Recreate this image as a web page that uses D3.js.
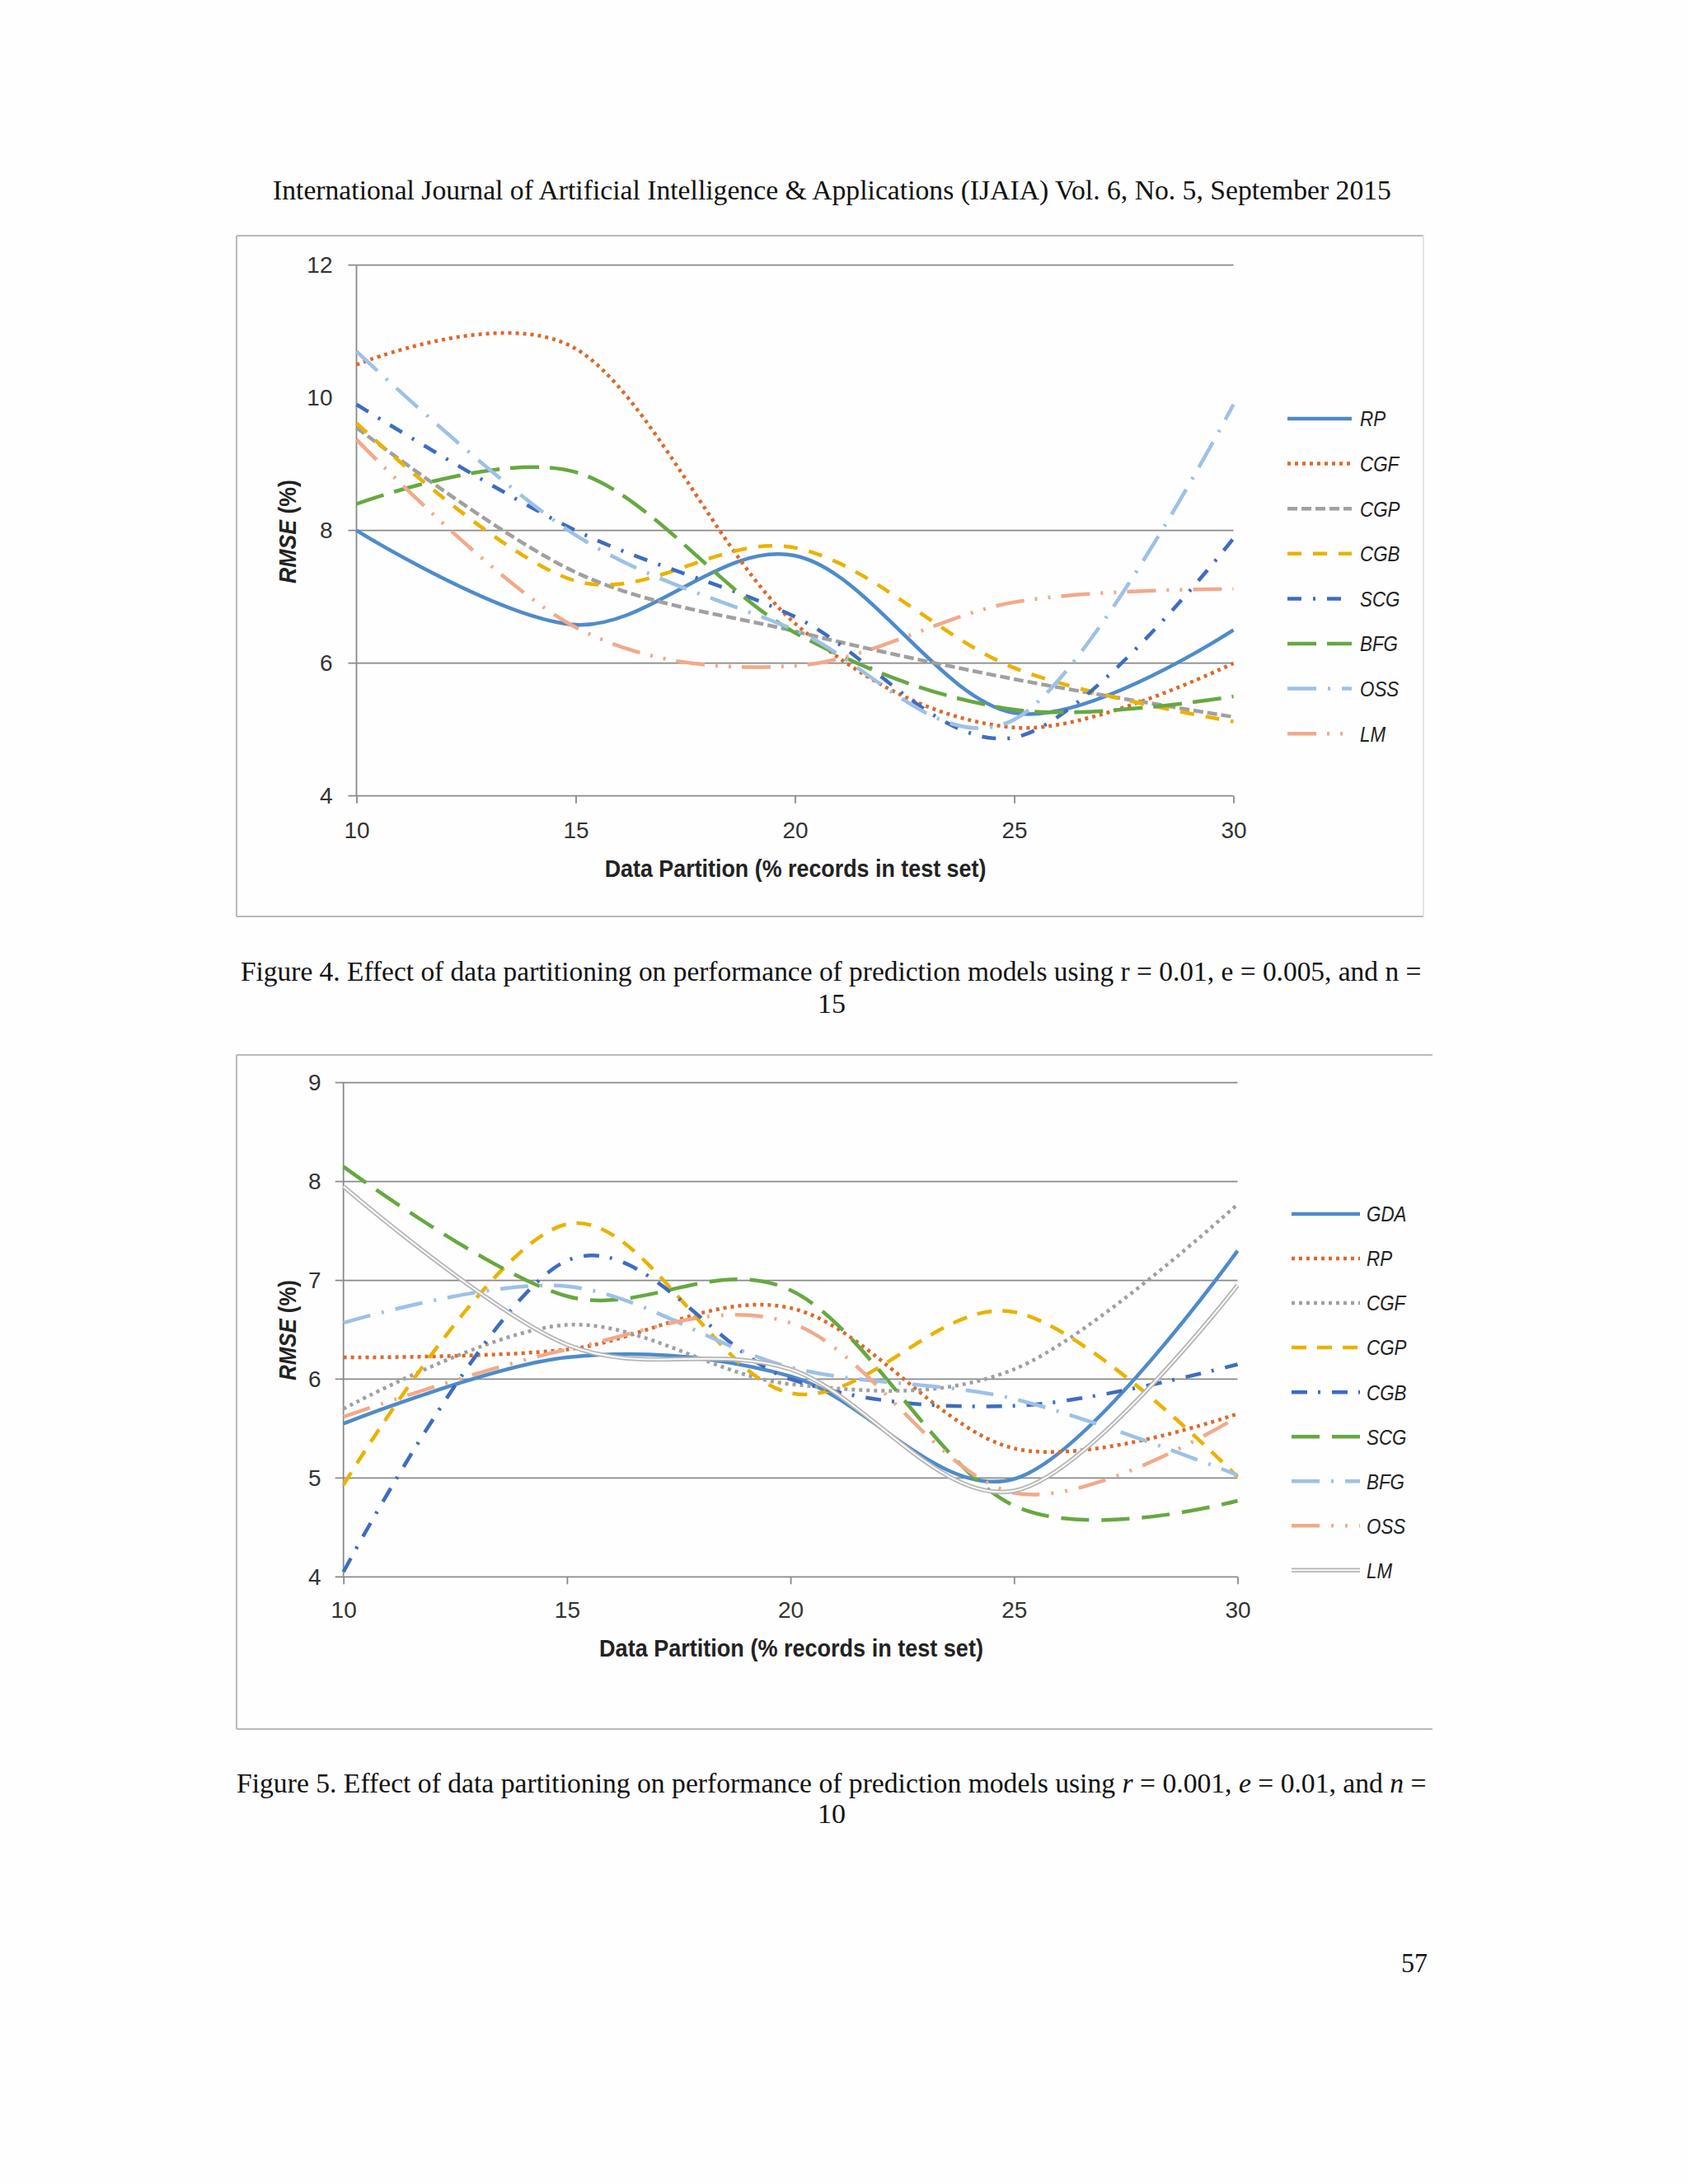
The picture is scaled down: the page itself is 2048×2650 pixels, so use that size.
<!DOCTYPE html>
<html><head><meta charset="utf-8">
<script src="https://cdn.jsdelivr.net/npm/d3@7"></script>
<style>
html,body{margin:0;padding:0;background:#fefefe;}
svg{display:block;}
</style></head><body>
<svg id="page" width="2048" height="2650"></svg>
<script>
// ---------- DATA ----------
const partitions = [10, 15, 20, 25, 30];

// Figure 4
const fig4Names = ["RP", "CGF", "CGP", "CGB", "SCG", "BFG", "OSS", "LM"];
const fig4RP  = [8.00, 6.58, 7.62, 5.25, 6.50];
const fig4CGF = [10.50, 10.74, 6.60, 5.03, 6.00];
const fig4CGP = [9.55, 7.37, 6.48, 5.76, 5.19];
const fig4CGB = [9.62, 7.24, 7.74, 5.93, 5.12];
const fig4SCG = [9.90, 8.00, 6.70, 4.88, 7.88];
const fig4BFG = [8.40, 8.88, 6.46, 5.30, 5.50];
const fig4OSS = [10.70, 7.93, 6.50, 5.15, 9.90];
const fig4LM  = [9.37, 6.54, 5.96, 6.92, 7.12];
const fig4YTicks = [4, 6, 8, 10, 12];
const fig4Grid = [12, 8, 6];

// Figure 5
const fig5Names = ["GDA", "RP", "CGF", "CGP", "CGB", "SCG", "BFG", "OSS", "LM"];
const fig5GDA = [5.55, 6.22, 6.03, 4.99, 7.30];
const fig5RP  = [6.22, 6.30, 6.72, 5.30, 5.65];
const fig5CGF = [5.70, 6.55, 5.95, 6.10, 7.77];
const fig5CGP = [4.93, 7.57, 5.86, 6.68, 5.01];
const fig5CGB = [4.05, 7.20, 6.00, 5.73, 6.15];
const fig5SCG = [8.15, 6.84, 6.90, 4.72, 4.77];
const fig5BFG = [6.57, 6.94, 6.12, 5.80, 5.03];
const fig5OSS = [5.62, 6.30, 6.57, 4.85, 5.62];
const fig5LM  = [7.95, 6.35, 6.10, 4.87, 6.95];
const fig5YTicks = [4, 5, 6, 7, 8, 9];
const fig5Grid = [9, 8, 7, 6, 5];

const xTitle = "Data Partition (% records in test set)";

// ---------- STYLES ----------
const C = {
  blue: "#4f8bc9", orange: "#db6a2c", gray: "#a0a0a0", gold: "#eab200",
  dblue: "#3e6cbf", green: "#66a841", lblue: "#9dc1e6", salmon: "#f2a98a"
};
const fig4Styles = {
  RP:  {c: C.blue,   d: null},
  CGF: {c: C.orange, d: "4,5"},
  CGP: {c: C.gray,   d: "12,5"},
  CGB: {c: C.gold,   d: "17,14"},
  SCG: {c: C.dblue,  d: "17,14,3,14"},
  BFG: {c: C.green,  d: "35,13"},
  OSS: {c: C.lblue,  d: "35,14,3,14"},
  LM:  {c: C.salmon, d: "35,13,3,13,3,13"}
};
const fig5Styles = {
  GDA: {c: C.blue,   d: null},
  RP:  {c: C.orange, d: "4,5"},
  CGF: {c: C.gray,   d: "4,5"},
  CGP: {c: C.gold,   d: "18,13"},
  CGB: {c: C.dblue,  d: "19,13,3,14"},
  SCG: {c: C.green,  d: "34,15"},
  BFG: {c: C.lblue,  d: "34,14,3,14"},
  OSS: {c: C.salmon, d: "34,14,3,14,3,14"},
  LM:  {c: "#b5b5b5", d: null, dbl: true}
};

const svg = d3.select("#page");
svg.append("rect").attr("width", 2048).attr("height", 2650).attr("fill", "#fefefe");

const SERIF = "'Liberation Serif','Times New Roman',serif";
const SANS = "'Liberation Sans',Arial,sans-serif";

// squeeze a text horizontally to a target width (keeps glyph height)
function fitWidth(t, x, y, target) {
  const w = t.node().getComputedTextLength();
  const k = target / w;
  t.attr("x", 0).attr("y", 0).attr("transform", `translate(${x},${y}) scale(${k},1)`);
}

// ---------- PAGE TEXT ----------
function serifLine(x, y, anchor, target, build) {
  const t = svg.append("text").attr("text-anchor", anchor)
    .attr("font-family", SERIF).attr("font-size", 34).attr("fill", "#111");
  build(t);
  fitWidth(t, x, y, target);
  return t;
}
serifLine(331, 242, "start", 1357, t => t.text("International Journal of Artificial Intelligence & Applications (IJAIA) Vol. 6, No. 5, September 2015"));
serifLine(292, 1190, "start", 1433, t => t.text("Figure 4. Effect of data partitioning on performance of prediction models using r = 0.01, e = 0.005, and n ="));
serifLine(1009, 1229, "middle", 34, t => t.text("15"));
serifLine(287, 2175, "start", 1444, t => {
  t.append("tspan").text("Figure 5. Effect of data partitioning on performance of prediction models using ");
  t.append("tspan").attr("font-style", "italic").text("r");
  t.append("tspan").text(" = 0.001, ");
  t.append("tspan").attr("font-style", "italic").text("e");
  t.append("tspan").text(" = 0.01, and  ");
  t.append("tspan").attr("font-style", "italic").text("n");
  t.append("tspan").text(" =");
});
serifLine(1009, 2212, "middle", 34, t => t.text("10"));
serifLine(1732, 2393, "end", 32, t => t.text("57"));

// ---------- CHART ----------
function drawChart(cfg) {
  const g = svg.append("g");
  const [fx, fy, fw, fh] = cfg.frame;
  g.append("rect").attr("x", fx).attr("y", fy).attr("width", fw).attr("height", fh)
    .attr("fill", "#fefefe").attr("stroke", "none");
  const fl = g.append("g").attr("stroke", "#b9b9b9").attr("stroke-width", 2);
  fl.append("line").attr("x1", fx).attr("x2", fx + fw).attr("y1", fy).attr("y2", fy);
  fl.append("line").attr("x1", fx).attr("x2", fx + fw).attr("y1", fy + fh).attr("y2", fy + fh);
  fl.append("line").attr("x1", fx).attr("x2", fx).attr("y1", fy).attr("y2", fy + fh);
  if (cfg.rightEdge) fl.append("line").attr("x1", fx + fw).attr("x2", fx + fw).attr("y1", fy).attr("y2", fy + fh).attr("stroke", "#e4e4e4");

  const x = d3.scaleLinear().domain([10, 30]).range([cfg.px0, cfg.px1]);
  const y = d3.scaleLinear().domain(cfg.yDomain).range([cfg.py0, cfg.py1]);

  // gridlines (extend left as tick marks) + x axis line
  g.selectAll(null).data(cfg.grid.concat([cfg.yDomain[0]])).join("line")
    .attr("x1", x(10) - 10).attr("x2", x(30))
    .attr("y1", d => y(d)).attr("y2", d => y(d))
    .attr("stroke", "#8a8a8a").attr("stroke-width", 1.8);
  // y axis line
  g.append("line").attr("x1", x(10)).attr("x2", x(10))
    .attr("y1", y(cfg.yDomain[1])).attr("y2", y(cfg.yDomain[0]))
    .attr("stroke", "#8a8a8a").attr("stroke-width", 1.8);

  // y axis labels
  const ya = g.append("g").attr("transform", `translate(${x(10)},0)`)
    .call(d3.axisLeft(y).tickValues(cfg.yTicks).tickSize(0).tickPadding(cfg.yPad).tickFormat(d3.format("d")));
  ya.select(".domain").remove();
  ya.selectAll("text").attr("font-family", SANS).attr("font-size", 28).attr("fill", "#333");

  // x axis
  const xa = g.append("g").attr("transform", `translate(0,${y(cfg.yDomain[0])})`)
    .call(d3.axisBottom(x).tickValues(partitions).tickSize(9).tickPadding(cfg.xPad).tickFormat(d3.format("d")));
  xa.select(".domain").remove();
  xa.selectAll(".tick line").attr("stroke", "#8a8a8a").attr("stroke-width", 1.8);
  xa.selectAll("text").attr("font-family", SANS).attr("font-size", 28).attr("fill", "#333");

  // axis titles
  const xt = g.append("text").attr("text-anchor", "middle")
    .attr("font-family", SANS).attr("font-weight", "bold").attr("font-size", 29).attr("fill", "#222")
    .text(xTitle);
  fitWidth(xt, cfg.xtX, cfg.xtY, cfg.xtLen);
  const ytWrap = g.append("g").attr("transform", `translate(${cfg.ytX},${cfg.ytY}) rotate(-90)`);
  const yt = ytWrap.append("text").attr("text-anchor", "middle")
    .attr("font-family", SANS).attr("font-weight", "bold").attr("font-size", 29).attr("fill", "#222");
  yt.append("tspan").attr("font-style", "italic").text("RMSE");
  yt.append("tspan").text(" (%)");
  fitWidth(yt, 0, 0, cfg.ytLen);

  // series
  const line = d3.line().x((d, i) => x(partitions[i])).y(d => y(d)).curve(d3.curveCardinal.tension(0));
  const plot = g.append("g").attr("fill", "none");
  cfg.series.forEach(s => {
    const st = cfg.styles[s.name];
    if (st.dbl) {
      plot.append("path").attr("d", line(s.values)).attr("stroke", st.c).attr("stroke-width", 5.5);
      plot.append("path").attr("d", line(s.values)).attr("stroke", "#fafafa").attr("stroke-width", 2);
    } else {
      plot.append("path").attr("d", line(s.values)).attr("stroke", st.c).attr("stroke-width", 4.5)
        .attr("stroke-dasharray", st.d);
    }
  });

  // legend
  const lg = g.append("g");
  cfg.series.forEach((s, i) => {
    const st = cfg.styles[s.name];
    const ly = cfg.legY0 + i * cfg.legDy;
    if (st.dbl) {
      lg.append("line").attr("x1", cfg.legX0).attr("x2", cfg.legX1).attr("y1", ly).attr("y2", ly)
        .attr("stroke", st.c).attr("stroke-width", 5.5);
      lg.append("line").attr("x1", cfg.legX0).attr("x2", cfg.legX1).attr("y1", ly).attr("y2", ly)
        .attr("stroke", "#fafafa").attr("stroke-width", 2);
    } else {
      lg.append("line").attr("x1", cfg.legX0).attr("x2", cfg.legX1).attr("y1", ly).attr("y2", ly)
        .attr("stroke", st.c).attr("stroke-width", 4.5).attr("stroke-dasharray", st.d);
    }
    const lt = lg.append("text").attr("dy", "0.36em")
      .attr("font-family", SANS).attr("font-style", "italic").attr("font-size", 26).attr("fill", "#222")
      .text(s.name);
    const w = lt.node().getComputedTextLength();
    fitWidth(lt, cfg.legTX, ly, w * 0.86);
  });
}

drawChart({
  frame: [287, 286, 1440, 826], rightEdge: true,
  px0: 432.5, px1: 1496.5, yDomain: [4, 12], py0: 965.7, py1: 321.7,
  grid: fig4Grid, yTicks: fig4YTicks, yPad: 29, xPad: 22,
  xtX: 965, xtY: 1064, xtLen: 463,
  ytX: 359, ytY: 645, ytLen: 126,
  legX0: 1562, legX1: 1640, legTX: 1650, legY0: 508, legDy: 54.6,
  styles: fig4Styles,
  series: [
    {name: "RP", values: fig4RP}, {name: "CGF", values: fig4CGF},
    {name: "CGP", values: fig4CGP}, {name: "CGB", values: fig4CGB},
    {name: "SCG", values: fig4SCG}, {name: "BFG", values: fig4BFG},
    {name: "OSS", values: fig4OSS}, {name: "LM", values: fig4LM}
  ]
});

drawChart({
  frame: [287, 1280, 1451, 818], rightEdge: false,
  px0: 416.7, px1: 1501.5, yDomain: [4, 9], py0: 1913.3, py1: 1313.7,
  grid: fig5Grid, yTicks: fig5YTicks, yPad: 27, xPad: 21,
  xtX: 960, xtY: 2010, xtLen: 466,
  ytX: 359, ytY: 1614, ytLen: 122,
  legX0: 1567, legX1: 1650, legTX: 1658, legY0: 1473, legDy: 54.04,
  styles: fig5Styles,
  series: [
    {name: "GDA", values: fig5GDA}, {name: "RP", values: fig5RP},
    {name: "CGF", values: fig5CGF}, {name: "CGP", values: fig5CGP},
    {name: "CGB", values: fig5CGB}, {name: "SCG", values: fig5SCG},
    {name: "BFG", values: fig5BFG}, {name: "OSS", values: fig5OSS},
    {name: "LM", values: fig5LM}
  ]
});
</script>
</body></html>
